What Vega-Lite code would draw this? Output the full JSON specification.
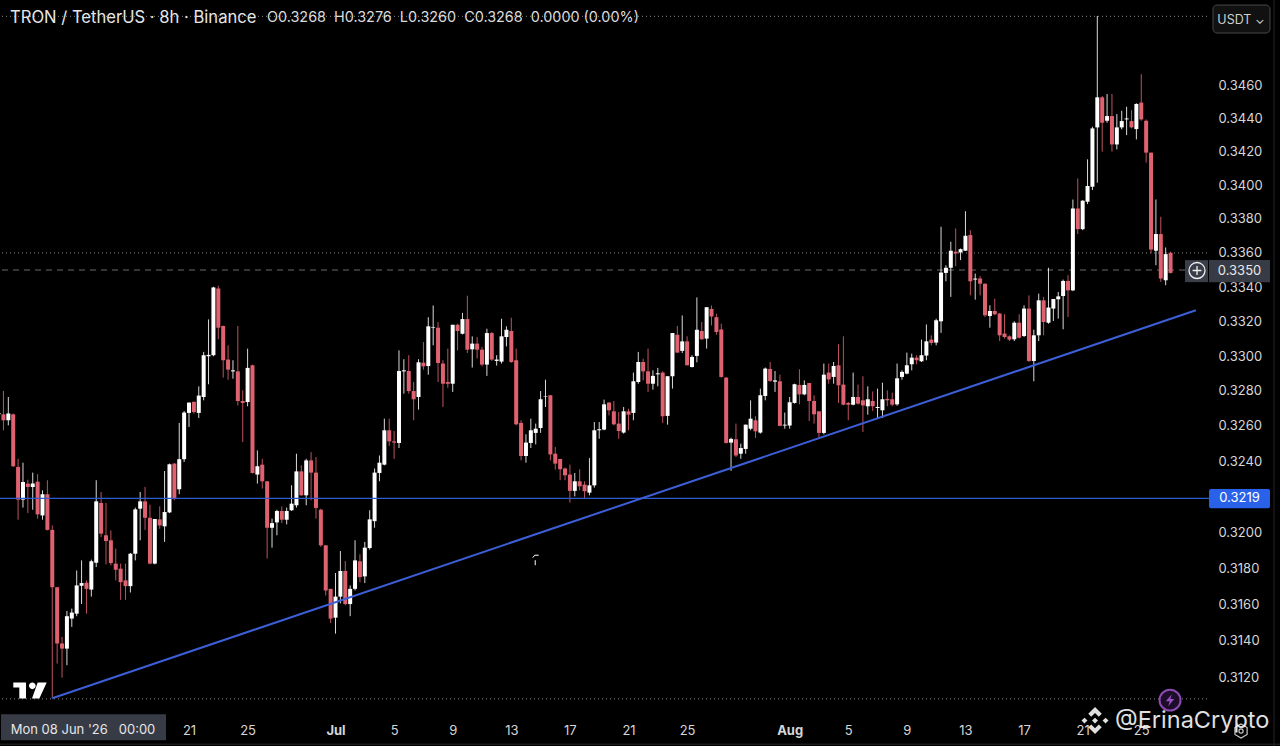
{
  "$schema": "https://vega.github.io/schema/vega-lite/v6.json",
  "description": "TRON / TetherUS 8h candles",
  "width": 1280,
  "height": 746,
  "padding": 0,
  "autosize": {"type": "none"},
  "background": "#000000",
  "view": {"stroke": null},
  "config": {"font": "Inter", "axis": {"labelFont": "Inter"}},
  "datasets": {
    "candles": [
{"t":"2026-06-08T00:00","o":0.32666,"h":0.3274,"l":0.3265,"c":0.32674},
{"t":"2026-06-08T08:00","o":0.32666,"h":0.328,"l":0.32575,"c":0.32632},
{"t":"2026-06-08T16:00","o":0.32632,"h":0.32765,"l":0.32603,"c":0.3267},
{"t":"2026-06-09T00:00","o":0.32666,"h":0.3267,"l":0.32367,"c":0.32371},
{"t":"2026-06-09T08:00","o":0.32367,"h":0.32413,"l":0.3207,"c":0.32183},
{"t":"2026-06-09T16:00","o":0.32183,"h":0.32391,"l":0.32138,"c":0.32282},
{"t":"2026-06-10T00:00","o":0.32273,"h":0.32295,"l":0.32107,"c":0.32254},
{"t":"2026-06-10T08:00","o":0.32254,"h":0.32335,"l":0.32126,"c":0.32273},
{"t":"2026-06-10T16:00","o":0.32284,"h":0.32326,"l":0.32076,"c":0.321},
{"t":"2026-06-11T00:00","o":0.32094,"h":0.32235,"l":0.3207,"c":0.32213},
{"t":"2026-06-11T08:00","o":0.32213,"h":0.32292,"l":0.3201,"c":0.32013},
{"t":"2026-06-11T16:00","o":0.32013,"h":0.32038,"l":0.31085,"c":0.31694},
{"t":"2026-06-12T00:00","o":0.31694,"h":0.31694,"l":0.31274,"c":0.31384},
{"t":"2026-06-12T08:00","o":0.31384,"h":0.3142,"l":0.31197,"c":0.31356},
{"t":"2026-06-12T16:00","o":0.31356,"h":0.31563,"l":0.31265,"c":0.31534},
{"t":"2026-06-13T00:00","o":0.31521,"h":0.31576,"l":0.31475,"c":0.31554},
{"t":"2026-06-13T08:00","o":0.31548,"h":0.31787,"l":0.31534,"c":0.31704},
{"t":"2026-06-13T16:00","o":0.31702,"h":0.31843,"l":0.31601,"c":0.31717},
{"t":"2026-06-14T00:00","o":0.31719,"h":0.31732,"l":0.31548,"c":0.31685},
{"t":"2026-06-14T08:00","o":0.31681,"h":0.31847,"l":0.31642,"c":0.31838},
{"t":"2026-06-14T16:00","o":0.3183,"h":0.32292,"l":0.31806,"c":0.32173},
{"t":"2026-06-15T00:00","o":0.32164,"h":0.32226,"l":0.31973,"c":0.31992},
{"t":"2026-06-15T08:00","o":0.31983,"h":0.32164,"l":0.31821,"c":0.31951},
{"t":"2026-06-15T16:00","o":0.31955,"h":0.3201,"l":0.31815,"c":0.31828},
{"t":"2026-06-16T00:00","o":0.31825,"h":0.31908,"l":0.31732,"c":0.31791},
{"t":"2026-06-16T08:00","o":0.31797,"h":0.31825,"l":0.31624,"c":0.31722},
{"t":"2026-06-16T16:00","o":0.31732,"h":0.31825,"l":0.31624,"c":0.317},
{"t":"2026-06-17T00:00","o":0.317,"h":0.31884,"l":0.31665,"c":0.3188},
{"t":"2026-06-17T08:00","o":0.3188,"h":0.32138,"l":0.31843,"c":0.32128},
{"t":"2026-06-17T16:00","o":0.32132,"h":0.32226,"l":0.31955,"c":0.32173},
{"t":"2026-06-18T00:00","o":0.32173,"h":0.32254,"l":0.32013,"c":0.32081},
{"t":"2026-06-18T08:00","o":0.32081,"h":0.32154,"l":0.31821,"c":0.31825},
{"t":"2026-06-18T16:00","o":0.31825,"h":0.32074,"l":0.31821,"c":0.32074},
{"t":"2026-06-19T00:00","o":0.32072,"h":0.32145,"l":0.32019,"c":0.32038},
{"t":"2026-06-19T08:00","o":0.32033,"h":0.32344,"l":0.31946,"c":0.32113},
{"t":"2026-06-19T16:00","o":0.32111,"h":0.32386,"l":0.32107,"c":0.32382},
{"t":"2026-06-20T00:00","o":0.32386,"h":0.32389,"l":0.32179,"c":0.32188},
{"t":"2026-06-20T08:00","o":0.32241,"h":0.32617,"l":0.32213,"c":0.32411},
{"t":"2026-06-20T16:00","o":0.32411,"h":0.32685,"l":0.32395,"c":0.32676},
{"t":"2026-06-21T00:00","o":0.32674,"h":0.32733,"l":0.32594,"c":0.32733},
{"t":"2026-06-21T08:00","o":0.32737,"h":0.3274,"l":0.3267,"c":0.32679},
{"t":"2026-06-21T16:00","o":0.32674,"h":0.32826,"l":0.32645,"c":0.32773},
{"t":"2026-06-22T00:00","o":0.32765,"h":0.33024,"l":0.32746,"c":0.33005},
{"t":"2026-06-22T08:00","o":0.32999,"h":0.33212,"l":0.32838,"c":0.33007},
{"t":"2026-06-22T16:00","o":0.33005,"h":0.33402,"l":0.32999,"c":0.33398},
{"t":"2026-06-23T00:00","o":0.33392,"h":0.33408,"l":0.33097,"c":0.33164},
{"t":"2026-06-23T08:00","o":0.33174,"h":0.33177,"l":0.32876,"c":0.32976},
{"t":"2026-06-23T16:00","o":0.3298,"h":0.33062,"l":0.32864,"c":0.32922},
{"t":"2026-06-24T00:00","o":0.32912,"h":0.32976,"l":0.3287,"c":0.32918},
{"t":"2026-06-24T08:00","o":0.32912,"h":0.33174,"l":0.32717,"c":0.32742},
{"t":"2026-06-24T16:00","o":0.32742,"h":0.32803,"l":0.32508,"c":0.32731},
{"t":"2026-06-25T00:00","o":0.32736,"h":0.33043,"l":0.32712,"c":0.32932},
{"t":"2026-06-25T08:00","o":0.32947,"h":0.32951,"l":0.3233,"c":0.32333},
{"t":"2026-06-25T16:00","o":0.32324,"h":0.32461,"l":0.32273,"c":0.32371},
{"t":"2026-06-26T00:00","o":0.3238,"h":0.32413,"l":0.32245,"c":0.32286},
{"t":"2026-06-26T08:00","o":0.32286,"h":0.32288,"l":0.31853,"c":0.32025},
{"t":"2026-06-26T16:00","o":0.32025,"h":0.32076,"l":0.31914,"c":0.32051},
{"t":"2026-06-27T00:00","o":0.32055,"h":0.32126,"l":0.31983,"c":0.32119},
{"t":"2026-06-27T08:00","o":0.32119,"h":0.32145,"l":0.32051,"c":0.3207},
{"t":"2026-06-27T16:00","o":0.3207,"h":0.32138,"l":0.32044,"c":0.32119},
{"t":"2026-06-28T00:00","o":0.32123,"h":0.32264,"l":0.32119,"c":0.3216},
{"t":"2026-06-28T08:00","o":0.32151,"h":0.32442,"l":0.32138,"c":0.32342},
{"t":"2026-06-28T16:00","o":0.32342,"h":0.32376,"l":0.32205,"c":0.32207},
{"t":"2026-06-29T00:00","o":0.32207,"h":0.32413,"l":0.32151,"c":0.32404},
{"t":"2026-06-29T08:00","o":0.32404,"h":0.32451,"l":0.32179,"c":0.32335},
{"t":"2026-06-29T16:00","o":0.32335,"h":0.32423,"l":0.32076,"c":0.32136},
{"t":"2026-06-30T00:00","o":0.32126,"h":0.32132,"l":0.31918,"c":0.31927},
{"t":"2026-06-30T08:00","o":0.31927,"h":0.31927,"l":0.31648,"c":0.31676},
{"t":"2026-06-30T16:00","o":0.31685,"h":0.31685,"l":0.31497,"c":0.31521},
{"t":"2026-07-01T00:00","o":0.31526,"h":0.31773,"l":0.31438,"c":0.31642},
{"t":"2026-07-01T08:00","o":0.31642,"h":0.31895,"l":0.31605,"c":0.31784},
{"t":"2026-07-01T16:00","o":0.31784,"h":0.31839,"l":0.31594,"c":0.31601},
{"t":"2026-07-02T00:00","o":0.31601,"h":0.31704,"l":0.31534,"c":0.31685},
{"t":"2026-07-02T08:00","o":0.31685,"h":0.31955,"l":0.31676,"c":0.31843},
{"t":"2026-07-02T16:00","o":0.31838,"h":0.31877,"l":0.31722,"c":0.3175},
{"t":"2026-07-03T00:00","o":0.31754,"h":0.31946,"l":0.31717,"c":0.31914},
{"t":"2026-07-03T08:00","o":0.31912,"h":0.32123,"l":0.31903,"c":0.32072},
{"t":"2026-07-03T16:00","o":0.32062,"h":0.32358,"l":0.32025,"c":0.32335},
{"t":"2026-07-04T00:00","o":0.32333,"h":0.32432,"l":0.32286,"c":0.32391},
{"t":"2026-07-04T08:00","o":0.3238,"h":0.32641,"l":0.32376,"c":0.32575},
{"t":"2026-07-04T16:00","o":0.32575,"h":0.32641,"l":0.32486,"c":0.32512},
{"t":"2026-07-05T00:00","o":0.32512,"h":0.32571,"l":0.32413,"c":0.32505},
{"t":"2026-07-05T08:00","o":0.32503,"h":0.33033,"l":0.32474,"c":0.32914},
{"t":"2026-07-05T16:00","o":0.32912,"h":0.32982,"l":0.32784,"c":0.32918},
{"t":"2026-07-06T00:00","o":0.32914,"h":0.33005,"l":0.32784,"c":0.32799},
{"t":"2026-07-06T08:00","o":0.32799,"h":0.32851,"l":0.32632,"c":0.32752},
{"t":"2026-07-06T16:00","o":0.32765,"h":0.32982,"l":0.32693,"c":0.32964},
{"t":"2026-07-07T00:00","o":0.32962,"h":0.33081,"l":0.32922,"c":0.32941},
{"t":"2026-07-07T08:00","o":0.32943,"h":0.33225,"l":0.32893,"c":0.33172},
{"t":"2026-07-07T16:00","o":0.33162,"h":0.33293,"l":0.33062,"c":0.33166},
{"t":"2026-07-08T00:00","o":0.33164,"h":0.33197,"l":0.32851,"c":0.3296},
{"t":"2026-07-08T08:00","o":0.32957,"h":0.32976,"l":0.32708,"c":0.32841},
{"t":"2026-07-08T16:00","o":0.32851,"h":0.33043,"l":0.32818,"c":0.32841},
{"t":"2026-07-09T00:00","o":0.32841,"h":0.33181,"l":0.32794,"c":0.33181},
{"t":"2026-07-09T08:00","o":0.33181,"h":0.33187,"l":0.33033,"c":0.33145},
{"t":"2026-07-09T16:00","o":0.33129,"h":0.3325,"l":0.33125,"c":0.33214},
{"t":"2026-07-10T00:00","o":0.33214,"h":0.3335,"l":0.33018,"c":0.33037},
{"t":"2026-07-10T08:00","o":0.33039,"h":0.33114,"l":0.32934,"c":0.33072},
{"t":"2026-07-10T16:00","o":0.33072,"h":0.3311,"l":0.32986,"c":0.33037},
{"t":"2026-07-11T00:00","o":0.33037,"h":0.33053,"l":0.32941,"c":0.32951},
{"t":"2026-07-11T08:00","o":0.32951,"h":0.33158,"l":0.32886,"c":0.33133},
{"t":"2026-07-11T16:00","o":0.33133,"h":0.33139,"l":0.32972,"c":0.3298},
{"t":"2026-07-12T00:00","o":0.32972,"h":0.33005,"l":0.32945,"c":0.3298},
{"t":"2026-07-12T08:00","o":0.32968,"h":0.33216,"l":0.32957,"c":0.33114},
{"t":"2026-07-12T16:00","o":0.3311,"h":0.33172,"l":0.33056,"c":0.33152},
{"t":"2026-07-13T00:00","o":0.33145,"h":0.33222,"l":0.32961,"c":0.32966},
{"t":"2026-07-13T08:00","o":0.32976,"h":0.33043,"l":0.32603,"c":0.32609},
{"t":"2026-07-13T16:00","o":0.32617,"h":0.32632,"l":0.32404,"c":0.32429},
{"t":"2026-07-14T00:00","o":0.32429,"h":0.32552,"l":0.32391,"c":0.32505},
{"t":"2026-07-14T08:00","o":0.32503,"h":0.32641,"l":0.32474,"c":0.32575},
{"t":"2026-07-14T16:00","o":0.3256,"h":0.32613,"l":0.32495,"c":0.32584},
{"t":"2026-07-15T00:00","o":0.32588,"h":0.32799,"l":0.3256,"c":0.32752},
{"t":"2026-07-15T08:00","o":0.32765,"h":0.32864,"l":0.32708,"c":0.32768},
{"t":"2026-07-15T16:00","o":0.32775,"h":0.32775,"l":0.32404,"c":0.32438},
{"t":"2026-07-16T00:00","o":0.32442,"h":0.3248,"l":0.32352,"c":0.32386},
{"t":"2026-07-16T08:00","o":0.32412,"h":0.32413,"l":0.32292,"c":0.32354},
{"t":"2026-07-16T16:00","o":0.32358,"h":0.32364,"l":0.32292,"c":0.3232},
{"t":"2026-07-17T00:00","o":0.32324,"h":0.3238,"l":0.32166,"c":0.32232},
{"t":"2026-07-17T08:00","o":0.32232,"h":0.32333,"l":0.32201,"c":0.32286},
{"t":"2026-07-17T16:00","o":0.32286,"h":0.32354,"l":0.32235,"c":0.32258},
{"t":"2026-07-18T00:00","o":0.32267,"h":0.32286,"l":0.32188,"c":0.3223},
{"t":"2026-07-18T08:00","o":0.32222,"h":0.32417,"l":0.32207,"c":0.32263},
{"t":"2026-07-18T16:00","o":0.32263,"h":0.32622,"l":0.3225,"c":0.32575},
{"t":"2026-07-19T00:00","o":0.32575,"h":0.32622,"l":0.32527,"c":0.32581},
{"t":"2026-07-19T08:00","o":0.32579,"h":0.3275,"l":0.32575,"c":0.32723},
{"t":"2026-07-19T16:00","o":0.32733,"h":0.32736,"l":0.3266,"c":0.32689},
{"t":"2026-07-20T00:00","o":0.32683,"h":0.32742,"l":0.32603,"c":0.32609},
{"t":"2026-07-20T08:00","o":0.32613,"h":0.32679,"l":0.32527,"c":0.32571},
{"t":"2026-07-20T16:00","o":0.32562,"h":0.32708,"l":0.32556,"c":0.32683},
{"t":"2026-07-21T00:00","o":0.32683,"h":0.32698,"l":0.32575,"c":0.32664},
{"t":"2026-07-21T08:00","o":0.32674,"h":0.32905,"l":0.32632,"c":0.32855},
{"t":"2026-07-21T16:00","o":0.32851,"h":0.33024,"l":0.32841,"c":0.32966},
{"t":"2026-07-22T00:00","o":0.32966,"h":0.32985,"l":0.3286,"c":0.32912},
{"t":"2026-07-22T08:00","o":0.32912,"h":0.33043,"l":0.32794,"c":0.32841},
{"t":"2026-07-22T16:00","o":0.32841,"h":0.32918,"l":0.32807,"c":0.32886},
{"t":"2026-07-23T00:00","o":0.32895,"h":0.32932,"l":0.32826,"c":0.32901},
{"t":"2026-07-23T08:00","o":0.32905,"h":0.32912,"l":0.32617,"c":0.32655},
{"t":"2026-07-23T16:00","o":0.32657,"h":0.32884,"l":0.32607,"c":0.32884},
{"t":"2026-07-24T00:00","o":0.32884,"h":0.33133,"l":0.32813,"c":0.33133},
{"t":"2026-07-24T08:00","o":0.33123,"h":0.33174,"l":0.3302,"c":0.3302},
{"t":"2026-07-24T16:00","o":0.3303,"h":0.33235,"l":0.33018,"c":0.33085},
{"t":"2026-07-25T00:00","o":0.33085,"h":0.33114,"l":0.32947,"c":0.32947},
{"t":"2026-07-25T08:00","o":0.32937,"h":0.33005,"l":0.32934,"c":0.32995},
{"t":"2026-07-25T16:00","o":0.33001,"h":0.3334,"l":0.32964,"c":0.33152},
{"t":"2026-07-26T00:00","o":0.33145,"h":0.33197,"l":0.33095,"c":0.33097},
{"t":"2026-07-26T08:00","o":0.33101,"h":0.33283,"l":0.33043,"c":0.33283},
{"t":"2026-07-26T16:00","o":0.33273,"h":0.33293,"l":0.33177,"c":0.33229},
{"t":"2026-07-27T00:00","o":0.33225,"h":0.33245,"l":0.33123,"c":0.33139},
{"t":"2026-07-27T08:00","o":0.33154,"h":0.33187,"l":0.32876,"c":0.3288},
{"t":"2026-07-27T16:00","o":0.32876,"h":0.3288,"l":0.32499,"c":0.32503},
{"t":"2026-07-28T00:00","o":0.32505,"h":0.32533,"l":0.32345,"c":0.32526},
{"t":"2026-07-28T08:00","o":0.32524,"h":0.32613,"l":0.32423,"c":0.32432},
{"t":"2026-07-28T16:00","o":0.32442,"h":0.32499,"l":0.32413,"c":0.32474},
{"t":"2026-07-29T00:00","o":0.32469,"h":0.32607,"l":0.32442,"c":0.32607},
{"t":"2026-07-29T08:00","o":0.32584,"h":0.32746,"l":0.32575,"c":0.32641},
{"t":"2026-07-29T16:00","o":0.32632,"h":0.32655,"l":0.32531,"c":0.32569},
{"t":"2026-07-30T00:00","o":0.32562,"h":0.32813,"l":0.32556,"c":0.32775},
{"t":"2026-07-30T08:00","o":0.32771,"h":0.32934,"l":0.32746,"c":0.32928},
{"t":"2026-07-30T16:00","o":0.32926,"h":0.32966,"l":0.32851,"c":0.32857},
{"t":"2026-07-31T00:00","o":0.32853,"h":0.32914,"l":0.32794,"c":0.3286},
{"t":"2026-07-31T08:00","o":0.32855,"h":0.32893,"l":0.32598,"c":0.326},
{"t":"2026-07-31T16:00","o":0.32602,"h":0.32676,"l":0.32584,"c":0.32607},
{"t":"2026-08-01T00:00","o":0.32602,"h":0.32765,"l":0.32584,"c":0.32735},
{"t":"2026-08-01T08:00","o":0.32731,"h":0.32841,"l":0.32727,"c":0.32838},
{"t":"2026-08-01T16:00","o":0.32834,"h":0.32924,"l":0.32723,"c":0.3278},
{"t":"2026-08-02T00:00","o":0.3278,"h":0.3286,"l":0.32775,"c":0.32834},
{"t":"2026-08-02T08:00","o":0.32845,"h":0.32845,"l":0.32628,"c":0.32742},
{"t":"2026-08-02T16:00","o":0.32742,"h":0.32775,"l":0.32613,"c":0.32666},
{"t":"2026-08-03T00:00","o":0.32683,"h":0.32683,"l":0.32533,"c":0.3256},
{"t":"2026-08-03T08:00","o":0.3256,"h":0.32957,"l":0.32552,"c":0.32893},
{"t":"2026-08-03T16:00","o":0.32905,"h":0.32957,"l":0.32841,"c":0.32866},
{"t":"2026-08-04T00:00","o":0.3288,"h":0.32966,"l":0.32841,"c":0.32943},
{"t":"2026-08-04T08:00","o":0.32947,"h":0.33068,"l":0.32731,"c":0.32832},
{"t":"2026-08-04T16:00","o":0.32836,"h":0.33114,"l":0.32717,"c":0.32721},
{"t":"2026-08-05T00:00","o":0.32731,"h":0.32736,"l":0.32632,"c":0.32721},
{"t":"2026-08-05T08:00","o":0.32721,"h":0.32905,"l":0.32717,"c":0.32765},
{"t":"2026-08-05T16:00","o":0.32765,"h":0.32836,"l":0.32721,"c":0.32727},
{"t":"2026-08-06T00:00","o":0.32746,"h":0.32884,"l":0.32565,"c":0.32717},
{"t":"2026-08-06T08:00","o":0.32712,"h":0.32826,"l":0.32664,"c":0.32752},
{"t":"2026-08-06T16:00","o":0.32742,"h":0.32797,"l":0.32685,"c":0.32712},
{"t":"2026-08-07T00:00","o":0.32702,"h":0.32813,"l":0.32641,"c":0.32708},
{"t":"2026-08-07T08:00","o":0.32689,"h":0.32847,"l":0.32645,"c":0.32752},
{"t":"2026-08-07T16:00","o":0.32754,"h":0.32803,"l":0.32712,"c":0.32746},
{"t":"2026-08-08T00:00","o":0.32752,"h":0.3279,"l":0.32712,"c":0.32721},
{"t":"2026-08-08T08:00","o":0.32723,"h":0.32957,"l":0.32715,"c":0.32872},
{"t":"2026-08-08T16:00","o":0.3288,"h":0.32918,"l":0.32864,"c":0.32909},
{"t":"2026-08-09T00:00","o":0.32899,"h":0.3302,"l":0.32895,"c":0.32947},
{"t":"2026-08-09T08:00","o":0.32953,"h":0.33014,"l":0.32918,"c":0.32991},
{"t":"2026-08-09T16:00","o":0.32991,"h":0.33005,"l":0.32953,"c":0.32976},
{"t":"2026-08-10T00:00","o":0.3297,"h":0.33095,"l":0.32966,"c":0.33005},
{"t":"2026-08-10T08:00","o":0.33003,"h":0.33183,"l":0.32976,"c":0.33085},
{"t":"2026-08-10T16:00","o":0.33095,"h":0.3312,"l":0.33062,"c":0.33076},
{"t":"2026-08-11T00:00","o":0.33078,"h":0.33216,"l":0.33062,"c":0.33207},
{"t":"2026-08-11T08:00","o":0.33201,"h":0.33754,"l":0.33134,"c":0.33485},
{"t":"2026-08-11T16:00","o":0.33483,"h":0.33528,"l":0.33434,"c":0.33513},
{"t":"2026-08-12T00:00","o":0.33513,"h":0.33666,"l":0.33343,"c":0.33613},
{"t":"2026-08-12T08:00","o":0.33607,"h":0.33744,"l":0.33522,"c":0.33597},
{"t":"2026-08-12T16:00","o":0.33603,"h":0.33626,"l":0.33558,"c":0.33622},
{"t":"2026-08-13T00:00","o":0.33613,"h":0.33846,"l":0.33613,"c":0.33701},
{"t":"2026-08-13T08:00","o":0.33705,"h":0.33734,"l":0.33352,"c":0.33434},
{"t":"2026-08-13T16:00","o":0.33444,"h":0.33479,"l":0.33327,"c":0.3345},
{"t":"2026-08-14T00:00","o":0.3345,"h":0.33464,"l":0.33352,"c":0.3342},
{"t":"2026-08-14T08:00","o":0.3342,"h":0.3342,"l":0.33226,"c":0.33236},
{"t":"2026-08-14T16:00","o":0.33232,"h":0.33294,"l":0.33164,"c":0.33261},
{"t":"2026-08-15T00:00","o":0.33261,"h":0.33333,"l":0.33236,"c":0.33242},
{"t":"2026-08-15T08:00","o":0.33246,"h":0.3325,"l":0.33087,"c":0.3312},
{"t":"2026-08-15T16:00","o":0.3313,"h":0.33242,"l":0.33101,"c":0.3311},
{"t":"2026-08-16T00:00","o":0.33114,"h":0.3312,"l":0.33087,"c":0.33095},
{"t":"2026-08-16T08:00","o":0.33097,"h":0.33201,"l":0.33087,"c":0.33193},
{"t":"2026-08-16T16:00","o":0.33193,"h":0.33242,"l":0.33101,"c":0.33106},
{"t":"2026-08-17T00:00","o":0.33116,"h":0.33294,"l":0.3311,"c":0.33275},
{"t":"2026-08-17T08:00","o":0.33275,"h":0.33352,"l":0.32966,"c":0.32972},
{"t":"2026-08-17T16:00","o":0.32972,"h":0.33153,"l":0.32855,"c":0.3312},
{"t":"2026-08-18T00:00","o":0.3312,"h":0.33362,"l":0.33087,"c":0.33323},
{"t":"2026-08-18T08:00","o":0.33323,"h":0.33343,"l":0.3312,"c":0.33197},
{"t":"2026-08-18T16:00","o":0.33193,"h":0.33513,"l":0.33187,"c":0.33281},
{"t":"2026-08-19T00:00","o":0.33275,"h":0.33331,"l":0.33203,"c":0.33331},
{"t":"2026-08-19T08:00","o":0.33329,"h":0.33372,"l":0.33217,"c":0.33346},
{"t":"2026-08-19T16:00","o":0.33348,"h":0.33444,"l":0.33155,"c":0.33436},
{"t":"2026-08-20T00:00","o":0.33436,"h":0.3347,"l":0.33226,"c":0.33381},
{"t":"2026-08-20T08:00","o":0.33381,"h":0.33915,"l":0.33377,"c":0.33862},
{"t":"2026-08-20T16:00","o":0.33862,"h":0.3404,"l":0.33711,"c":0.3374},
{"t":"2026-08-21T00:00","o":0.3374,"h":0.33911,"l":0.33734,"c":0.33908},
{"t":"2026-08-21T08:00","o":0.33902,"h":0.34154,"l":0.33888,"c":0.33995},
{"t":"2026-08-21T16:00","o":0.33991,"h":0.34349,"l":0.33971,"c":0.34339},
{"t":"2026-08-22T00:00","o":0.34345,"h":0.3502,"l":0.34015,"c":0.34526},
{"t":"2026-08-22T08:00","o":0.34526,"h":0.34534,"l":0.342,"c":0.34373},
{"t":"2026-08-22T16:00","o":0.34385,"h":0.34546,"l":0.34373,"c":0.34413},
{"t":"2026-08-23T00:00","o":0.34413,"h":0.34546,"l":0.342,"c":0.34243},
{"t":"2026-08-23T08:00","o":0.34243,"h":0.34425,"l":0.34213,"c":0.34345},
{"t":"2026-08-23T16:00","o":0.34345,"h":0.34445,"l":0.34333,"c":0.34383},
{"t":"2026-08-24T00:00","o":0.34393,"h":0.34469,"l":0.34299,"c":0.34399},
{"t":"2026-08-24T08:00","o":0.34383,"h":0.34449,"l":0.34339,"c":0.34345},
{"t":"2026-08-24T16:00","o":0.34335,"h":0.3449,"l":0.34273,"c":0.34486},
{"t":"2026-08-25T00:00","o":0.34494,"h":0.34666,"l":0.34385,"c":0.34393},
{"t":"2026-08-25T08:00","o":0.34385,"h":0.34393,"l":0.34134,"c":0.34194},
{"t":"2026-08-25T16:00","o":0.34194,"h":0.34194,"l":0.33597,"c":0.3362},
{"t":"2026-08-26T00:00","o":0.33613,"h":0.33915,"l":0.33528,"c":0.33711},
{"t":"2026-08-26T08:00","o":0.33711,"h":0.33813,"l":0.3343,"c":0.3345},
{"t":"2026-08-26T16:00","o":0.3344,"h":0.33632,"l":0.33411,"c":0.33593},
{"t":"2026-08-27T00:00","o":0.33601,"h":0.33607,"l":0.33479,"c":0.33483}
    ]
  },
  "encoding": {
    "x": {
      "field": "t",
      "type": "temporal",
      "title": null,
      "scale": {"domain": ["2026-06-08T02:22", "2026-09-03T11:17"], "nice": false, "padding": 0},
      "axis": {
        "orient": "bottom",
        "offset": -16,
        "domain": false,
        "ticks": false,
        "grid": false,
        "labelPadding": 0,
        "labelBaseline": "middle",
        "labelAlign": "center",
        "labelFontSize": 13,
        "labelColor": "#d6d6d6",
        "labelFontWeight": {"condition": {"test": "date(datum.value)==1", "value": "bold"}, "value": "normal"},
        "values": ["2026-06-21T00:00", "2026-06-25T00:00", "2026-07-01T00:00", "2026-07-05T00:00", "2026-07-09T00:00", "2026-07-13T00:00", "2026-07-17T00:00", "2026-07-21T00:00", "2026-07-25T00:00", "2026-08-01T00:00", "2026-08-05T00:00", "2026-08-09T00:00", "2026-08-13T00:00", "2026-08-17T00:00", "2026-08-21T00:00", "2026-08-25T00:00"],
        "labelExpr": "date(datum.value)==1 ? timeFormat(datum.value,'%b') : timeFormat(datum.value,'%-d')",
        "labelOverlap": false,
        "labelBound": false,
        "labelFlush": false
      }
    },
    "y": {
      "field": "p",
      "type": "quantitative",
      "title": null,
      "scale": {"type": "log", "domain": [0.30827, 0.35118], "nice": false},
      "axis": {
        "orient": "right",
        "offset": -62,
        "domain": false,
        "ticks": false,
        "grid": false,
        "labelPadding": 0,
        "labelAlign": "left",
        "labelFontSize": 13,
        "labelColor": "#d6d6d6",
        "format": ".4f",
        "values": [0.312, 0.314, 0.316, 0.318, 0.32, 0.324, 0.326, 0.328, 0.33, 0.332, 0.334, 0.336, 0.338, 0.34, 0.342, 0.344, 0.346],
        "labelOverlap": false
      }
    }
  },
  "layer": [
    {
      "data": {"values": [{"t": "2026-09-03T01:26", "t0": "2026-09-03T01:26", "p": 0.30827, "p0": 0.35118}, {"t": "2026-06-08T02:22", "t0": "2026-09-03T11:17", "p": 0.30837, "p0": 0.30837}]},
      "mark": {"type": "rule", "color": "#1a1a1a", "strokeWidth": 1.5},
      "encoding": {"x2": {"field": "t0"}, "y2": {"field": "p0"}}
    },
    {
      "data": {"values": [{"t": "2026-08-29T11:43", "t0": "2026-06-08T02:22", "p": 0.35018}, {"t": "2026-08-29T11:43", "t0": "2026-06-08T02:22", "p": 0.336}, {"t": "2026-08-29T11:43", "t0": "2026-06-08T02:22", "p": 0.31082}]},
      "mark": {"type": "rule", "color": "#8a8a8a", "strokeWidth": 1, "strokeDash": [1, 3]},
      "encoding": {"x2": {"field": "t0"}}
    },
    {
      "data": {"values": [{"t": "2026-08-27T23:40", "t0": "2026-06-08T02:22", "p": 0.335}]},
      "mark": {"type": "rule", "color": "#6a6a6a", "strokeWidth": 1, "strokeDash": [6, 5]},
      "encoding": {"x2": {"field": "t0"}}
    },
    {
      "data": {"name": "candles"},
      "mark": {"type": "rule", "strokeWidth": 1, "opacity": 0.85},
      "encoding": {
        "y": {"field": "l", "type": "quantitative", "title": null, "scale": {"type": "log", "domain": [0.30827, 0.35118], "nice": false}},
        "y2": {"field": "h"},
        "color": {"condition": {"test": "datum.c>=datum.o", "value": "#ffffff"}, "value": "#df6270"}
      }
    },
    {
      "data": {"name": "candles"},
      "mark": {"type": "bar", "size": 4},
      "encoding": {
        "y": {"field": "o", "type": "quantitative", "title": null, "scale": {"type": "log", "domain": [0.30827, 0.35118], "nice": false}},
        "y2": {"field": "c"},
        "color": {"condition": {"test": "datum.c>=datum.o", "value": "#ffffff"}, "value": "#df6270"}
      }
    },
    {
      "data": {"values": [{"t": "2026-06-08T02:22", "t0": "2026-08-29T15:00", "p": 0.3219}]},
      "mark": {"type": "rule", "color": "#2f5bd0", "strokeWidth": 1.2},
      "encoding": {"x2": {"field": "t0"}}
    },
    {
      "data": {"values": [{"t": "2026-06-11T16:00", "t0": "2026-08-28T17:30", "p": 0.31085, "p0": 0.33265}]},
      "mark": {"type": "rule", "color": "#3c5fd8", "strokeWidth": 2},
      "encoding": {"x2": {"field": "t0"}, "y2": {"field": "p0"}}
    },
    {
      "data": {"values": [{"t": "2026-06-08T04:01", "t0": "2026-06-19T10:19", "p": 0.30999, "p0": 0.30858}, {"t": "2026-08-29T15:00", "t0": "2026-09-02T18:55", "p": 0.33558, "p0": 0.33429}]},
      "mark": {"type": "rect", "color": "#373b46"},
      "encoding": {"x2": {"field": "t0"}, "y2": {"field": "p0"}}
    },
    {
      "data": {"values": [{"t": "2026-08-27T23:40", "t0": "2026-08-29T13:20", "p": 0.33558, "p0": 0.33429}]},
      "mark": {"type": "rect", "color": "#3a3e4a"},
      "encoding": {"x2": {"field": "t0"}, "y2": {"field": "p0"}}
    },
    {
      "data": {"values": [{"t": "2026-08-29T15:00", "t0": "2026-09-02T18:55", "p": 0.32242, "p0": 0.32135}]},
      "mark": {"type": "rect", "color": "#2962e8", "cornerRadius": 2},
      "encoding": {"x2": {"field": "t0"}, "y2": {"field": "p0"}}
    },
    {
      "data": {"values": [{"t": "2026-08-29T21:33", "t0": "2026-09-02T18:55", "p": 0.35087, "p0": 0.34916}]},
      "mark": {"type": "rect", "fill": "#111111", "stroke": "#4a4a4a", "strokeWidth": 1, "cornerRadius": 4},
      "encoding": {"x2": {"field": "t0"}, "y2": {"field": "p0"}}
    },
    {
      "data": {"values": [{"t": "2026-08-28T19:20", "p": 0.33497}]},
      "mark": {"type": "point", "shape": "M-1 0a1 1 0 1 0 2 0a1 1 0 1 0 -2 0ZM-0.55 0L0.55 0M0 -0.55L0 0.55", "size": 256, "stroke": "#f0f0f0", "strokeWidth": 1.3, "fill": null, "opacity": 1},
      "encoding": {}
    },
    {
      "data": {"values": [{"t": "2026-06-10T03:31", "p": 0.31129}]},
      "mark": {"type": "point", "shape": "M-1 -0.46L-0.24 -0.46L-0.24 0.5L-0.64 0.5L-0.64 -0.16L-1 -0.16ZM-0.06 -0.26a0.2 0.2 0 1 0 0.4 0a0.2 0.2 0 1 0 -0.4 0ZM0.46 -0.46L1 -0.46L0.56 0.5L0.12 0.5Z", "size": 1115, "fill": "#ffffff", "filled": true, "opacity": 1, "strokeWidth": 0},
      "encoding": {}
    },
    {
      "data": {"values": [{"t": "2026-08-26T23:07", "p": 0.31075}]},
      "mark": {"type": "point", "shape": "circle", "size": 440, "fill": "#1e0d2a", "stroke": "#8b4bb0", "strokeWidth": 2, "opacity": 1},
      "encoding": {}
    },
    {
      "data": {"values": [{"t": "2026-08-26T23:07", "p": 0.31075}]},
      "mark": {"type": "point", "shape": "M0.3 -1L-0.7 0.2L-0.05 0.2L-0.3 1L0.7 -0.2L0.05 -0.2Z", "size": 144, "fill": "#9a52c4", "filled": true, "opacity": 1, "strokeWidth": 0},
      "encoding": {}
    },
    {
      "data": {"values": [{"t": "2026-08-21T20:14", "p": 0.30964}]},
      "mark": {"type": "point", "shape": "M0 -0.22L0.22 0L0 0.22L-0.22 0ZM-1 0L-0.78 -0.22L-0.56 0L-0.78 0.22ZM1 0L0.78 -0.22L0.56 0L0.78 0.22ZM0 -1L0.5 -0.5L0.28 -0.28L0 -0.56L-0.28 -0.28L-0.5 -0.5ZM0 1L0.5 0.5L0.28 0.28L0 0.56L-0.28 0.28L-0.5 0.5Z", "size": 729, "fill": "#ffffff", "filled": true, "opacity": 0.88, "strokeWidth": 0},
      "encoding": {}
    },
    {
      "data": {"values": [{"t": "2026-08-31T19:26", "p": 0.30908}]},
      "mark": {"type": "point", "shape": "M0 -1L0.87 -0.5L0.87 0.5L0 1L-0.87 0.5L-0.87 -0.5ZM-0.3 0a0.3 0.3 0 1 0 0.6 0a0.3 0.3 0 1 0 -0.6 0Z", "size": 196, "stroke": "#c8c8c8", "strokeWidth": 1.2, "fill": null, "opacity": 1},
      "encoding": {}
    },
    {
      "data": {"values": [{"t": "2026-07-14T16:00", "p": 0.31844}]},
      "mark": {"type": "point", "shape": "M0.6 -1L-0.2 -1L-0.6 -0.5M-0.1 0L-0.1 1", "size": 100, "stroke": "#ffffff", "strokeWidth": 1, "fill": null, "opacity": 1},
      "encoding": {}
    },
    {
      "data": {"values": [{"t": "2026-06-08T18:45", "p": 0.35007, "label": "TRON / TetherUS · 8h · Binance"}]},
      "mark": {"type": "text", "align": "left", "baseline": "middle", "font": "Inter", "fontSize": 16.6, "color": "#e6e6e6"},
      "encoding": {"text": {"field": "label"}}
    },
    {
      "data": {"values": [{"t": "2026-06-26T07:46", "p": 0.35007, "label": "O0.3268\u00a0\u00a0H0.3276\u00a0\u00a0L0.3260\u00a0\u00a0C0.3268\u00a0\u00a00.0000 (0.00%)"}]},
      "mark": {"type": "text", "align": "left", "baseline": "middle", "font": "Inter", "fontSize": 14.4, "color": "#dcdcdc"},
      "encoding": {"text": {"field": "label"}}
    },
    {
      "data": {"values": [{"t": "2026-06-13T18:21", "p": 0.30915, "label": "Mon 08 Jun '26\u00a0\u00a0\u00a000:00"}]},
      "mark": {"type": "text", "align": "center", "baseline": "middle", "font": "Inter", "fontSize": 13, "color": "#e6e6e6"},
      "encoding": {"text": {"field": "label"}}
    },
    {
      "data": {"values": [{"t": "2026-08-31T16:58", "p": 0.33497, "label": "0.3350"}]},
      "mark": {"type": "text", "align": "center", "baseline": "middle", "font": "Inter", "fontSize": 13, "color": "#e8e8e8"},
      "encoding": {"text": {"field": "label"}}
    },
    {
      "data": {"values": [{"t": "2026-08-31T16:58", "p": 0.3219, "label": "0.3219"}]},
      "mark": {"type": "text", "align": "center", "baseline": "middle", "font": "Inter", "fontSize": 13, "color": "#ffffff"},
      "encoding": {"text": {"field": "label"}}
    },
    {
      "data": {"values": [{"t": "2026-08-31T19:26", "p": 0.34998, "label": "USDT ⌄"}]},
      "mark": {"type": "text", "align": "center", "baseline": "middle", "font": "Inter", "fontSize": 12.5, "color": "#cfcfcf"},
      "encoding": {"text": {"field": "label"}}
    },
    {
      "data": {"values": [{"t": "2026-08-23T05:00", "p": 0.30964, "label": "@ErinaCrypto"}]},
      "mark": {"type": "text", "align": "left", "baseline": "middle", "font": "Inter", "fontSize": 23.5, "color": "#ffffff", "opacity": 0.88},
      "encoding": {"text": {"field": "label"}}
    }
  ]
}
